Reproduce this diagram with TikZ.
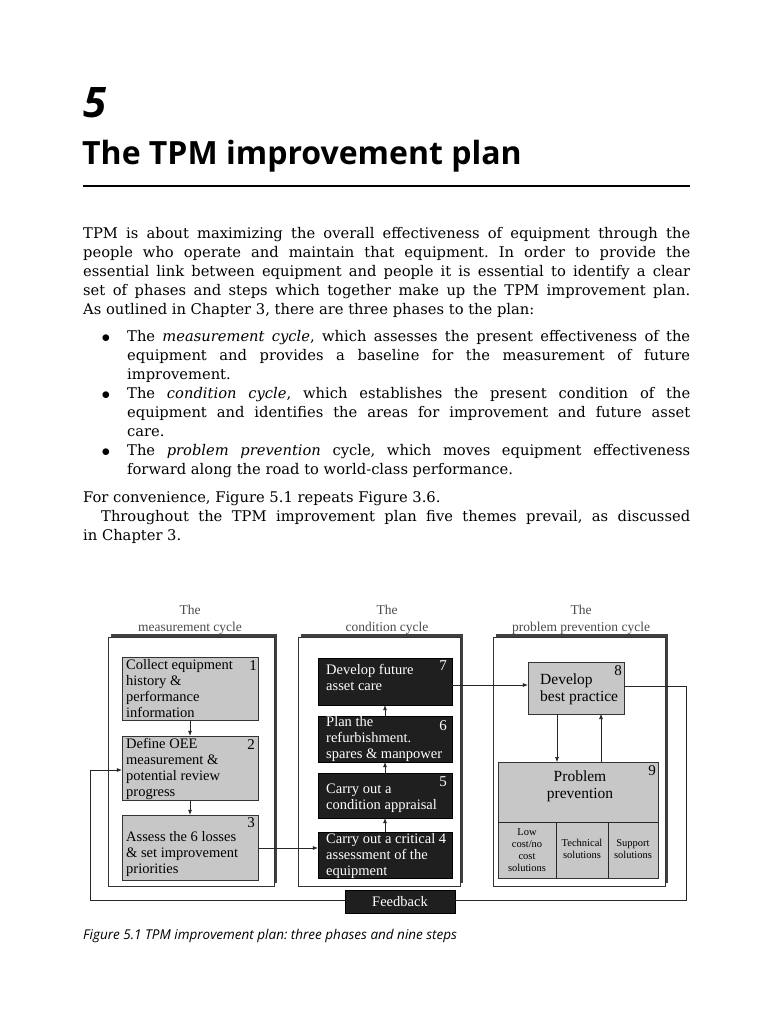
\documentclass[tikz,border=0pt]{standalone}
\usepackage{fontspec}
\setmainfont{Liberation Serif}
\newfontfamily\bodyfont{DejaVu Serif}
\newfontfamily\headfont{Open Sans}
\usetikzlibrary{arrows.meta,patterns}
\frenchspacing
\tikzset{
  para/.style={anchor=north west,inner sep=0pt,text width=#1,align=justify,font=\bodyfont\fontsize{14.7}{19}\selectfont},
  lbl/.style={font=\fontsize{13.5}{17}\selectfont,text=black!70,align=center},
  panel/.style={draw=black!80,line width=0.8pt,fill=white},
  gbox/.style={draw=black!80,fill=black!22,line width=0.6pt},
  dbox/.style={draw=black,fill=black!88,line width=0.6pt},
  btxt/.style={anchor=north west,inner sep=0pt,align=left,font=\fontsize{14.5}{16}\selectfont},
  num/.style={anchor=north east,inner sep=0pt,font=\fontsize{15}{15}\selectfont},
  conn/.style={draw=black!85,line width=0.6pt,-{Latex[length=5pt,width=4pt]}},
  line/.style={draw=black!85,line width=0.6pt}
}
\begin{document}
\begin{tikzpicture}[x=1pt,y=-1pt]
\useasboundingbox[fill=white] (0,0) rectangle (768,1024);
% heading
\node[anchor=west,inner sep=0pt,font=\headfont\bfseries\itshape\fontsize{42}{42}\selectfont] (chap) at (83,103) {5};
\node[anchor=west,inner sep=0pt,font=\headfont\bfseries\fontsize{32}{32}\selectfont] (title) at (82,156) {The TPM improvement plan};
\draw[line width=1.6pt] (83,186) -- (690,186);
% body
\node[para=607pt] (p1) at (83,227) {TPM is about maximizing the overall effectiveness of equipment through the\linebreak people who operate and maintain that equipment. In order to provide the\linebreak essential link between equipment and people it is essential to identify a clear\linebreak set of phases and steps which together make up the TPM improvement plan.\linebreak As outlined in Chapter 3, there are three phases to the plan:};
\node[anchor=center,font=\fontsize{16}{19}\selectfont] (b1) at (106,339) {$\bullet$};
\node[anchor=center,font=\fontsize{16}{19}\selectfont] (b2) at (106,396) {$\bullet$};
\node[anchor=center,font=\fontsize{16}{19}\selectfont] (b3) at (106,453) {$\bullet$};
\node[para=563pt] (p2) at (127,330) {The \emph{measurement cycle}, which assesses the present effectiveness of the\linebreak equipment and provides a baseline for the measurement of future\linebreak improvement.};
\node[para=563pt] (p3) at (127,387) {The \emph{condition cycle}, which establishes the present condition of the\linebreak equipment and identifies the areas for improvement and future asset\linebreak care.};
\node[para=563pt] (p4) at (127,444) {The \emph{problem prevention} cycle, which moves equipment effectiveness\linebreak forward along the road to world-class performance.};
\node[para=607pt] (p5) at (83,491) {For convenience, Figure 5.1 repeats Figure 3.6.\newline
\hspace*{18pt}Throughout the TPM improvement plan five themes prevail, as discussed\linebreak in Chapter 3.};
% diagram headers
\node[lbl] (h1) at (190,620) {The\\measurement cycle};
\node[lbl] (h2) at (387,620) {The\\condition cycle};
\node[lbl] (h3) at (581,620) {The\\problem prevention cycle};
% panels with shadow
\foreach \a/\b in {108/274,298/460,493/665}{
  \fill[black!75] (\a+3,634) rectangle (\b+3,883);
  \draw[panel] (\a,637) rectangle (\b,886);
}
% left boxes
\draw[gbox] (122,657) rectangle (258,720);
\node (n1) at (190,688.5) [minimum width=136pt,minimum height=63pt,inner sep=0pt] {};
\node[btxt] at (126,659) {Collect equipment\\history \&\\performance\\information};
\node[num] at (257,660) {1};
\draw[gbox] (122,736) rectangle (258,800);
\node (n2) at (190,768) [minimum width=136pt,minimum height=64pt,inner sep=0pt] {};
\node[btxt] at (126,738) {Define OEE\\measurement \&\\potential review\\progress};
\node[num] at (255,739) {2};
\draw[gbox] (122,815) rectangle (258,880);
\node (n3) at (190,847.5) [minimum width=136pt,minimum height=65pt,inner sep=0pt] {};
\node[btxt] at (126,831) {Assess the 6 losses\\\& set improvement\\priorities};
\node[num] at (255,817) {3};
% middle boxes
\draw[dbox] (318,658) rectangle (452,705);
\node (n7) at (385,681.5) [minimum width=134pt,minimum height=47pt,inner sep=0pt] {};
\node[btxt,text=white] at (326,664) {Develop future\\asset care};
\node[num,text=white] at (447,660) {7};
\draw[dbox] (318,716) rectangle (452,762);
\node (n6) at (385,739) [minimum width=134pt,minimum height=46pt,inner sep=0pt] {};
\node[btxt,text=white] at (326,716) {Plan the\\refurbishment.\\spares \& manpower};
\node[num,text=white] at (447,720) {6};
\draw[dbox] (318,773) rectangle (452,818);
\node (n5) at (385,795.5) [minimum width=134pt,minimum height=45pt,inner sep=0pt] {};
\node[btxt,text=white] at (326,784) {Carry out a\\condition appraisal};
\node[num,text=white] at (447,776) {5};
\draw[dbox] (318,832) rectangle (452,878);
\node (n4) at (385,855) [minimum width=134pt,minimum height=46pt,inner sep=0pt] {};
\node[btxt,text=white] at (326,833) {Carry out a critical 4\\assessment of the\\equipment};
% right boxes
\draw[gbox] (528,662) rectangle (624,714);
\node (n8) at (576,688) [minimum width=96pt,minimum height=52pt,inner sep=0pt] {};
\node[btxt,font=\fontsize{15.5}{17}\selectfont] at (540,674) {Develop\\best practice};
\node[num] at (622,665) {8};
\draw[gbox] (498,762) rectangle (658,878);
\node (n9) at (578,820) [minimum width=160pt,minimum height=116pt,inner sep=0pt] {};
\draw[line] (498,822) -- (658,822) (556,822) -- (556,878) (608,822) -- (608,878);
\node[font=\fontsize{15.5}{17}\selectfont,align=center] (t9) at (580,786) {Problem\\prevention};
\node[num] at (656,765) {9};
\node[font=\fontsize{10.5}{12}\selectfont,align=center] (c1) at (527,850) {Low\\cost/no\\cost\\solutions};
\node[font=\fontsize{10.5}{12}\selectfont,align=center] (c2) at (582,849) {Technical\\solutions};
\node[font=\fontsize{10.5}{12}\selectfont,align=center] (c3) at (633,849) {Support\\solutions};
% arrows
\draw[conn] (n1.south) -- (n2.north);
\draw[conn] (n2.south) -- (n3.north);
\draw[conn] (n4.north) -- (n5.south);
\draw[conn] (n5.north) -- (n6.south);
\draw[conn] (n6.north) -- (n7.south);
\draw[conn] (n3.east |- 0,848) -- (n4.west |- 0,848);
\draw[conn] (n7.east |- 0,685) -- (n8.west |- 0,685);
\draw[conn] (557,714) -- (557,762);
\draw[conn] (601,762) -- (601,714);
% feedback
\node[dbox,text=white,minimum width=110pt,minimum height=23pt,inner sep=0pt,font=\fontsize{14.5}{14.5}\selectfont] (fb) at (400,901.5) {Feedback};
\coordinate (fr) at (686,900);
\coordinate (fl) at (90,900);
\draw[line] (n8.east |- 0,686) -- (686,686) -- (fr) -- (fb.east |- fr);
\draw[conn] (fb.west |- fl) -- (fl) -- (90,770) -- (n2.west |- 0,770);
% caption
\node[anchor=west,inner sep=0pt,font=\headfont\itshape\fontsize{13.5}{13.5}\selectfont] (cap) at (83,936) {Figure 5.1 TPM improvement plan: three phases and nine steps};
\end{tikzpicture}
\end{document}
